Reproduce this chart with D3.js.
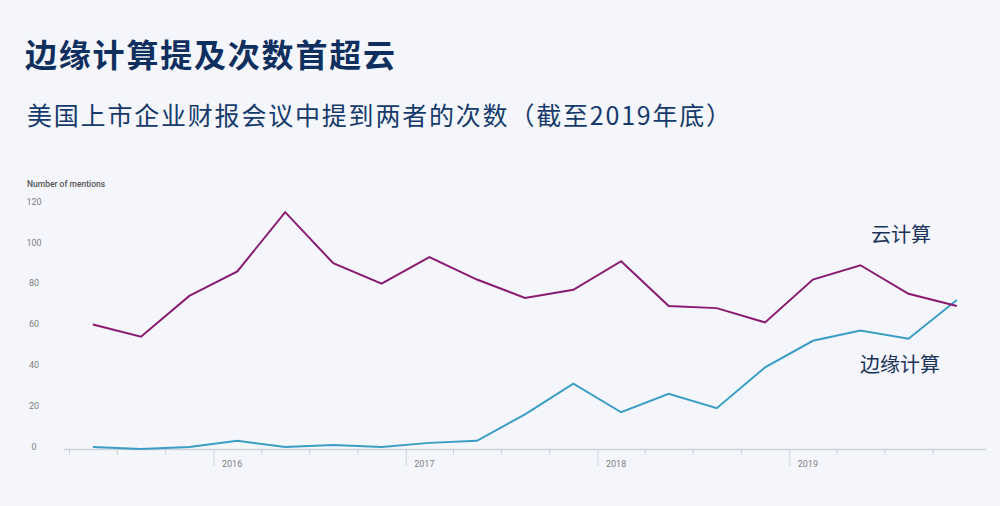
<!DOCTYPE html>
<html>
<head>
<meta charset="utf-8">
<script src="https://cdn.jsdelivr.net/npm/d3@7"></script>
<style>
  html, body { margin: 0; padding: 0; background: #f4f6fb; }
  svg { display: block; }
</style>
</head>
<body>
<svg id="chart" width="1000" height="506"></svg>
<script>
// ---- data ----
const quarters = ["2015-Q2","2015-Q3","2015-Q4",
  "2016-Q1","2016-Q2","2016-Q3","2016-Q4",
  "2017-Q1","2017-Q2","2017-Q3","2017-Q4",
  "2018-Q1","2018-Q2","2018-Q3","2018-Q4",
  "2019-Q1","2019-Q2","2019-Q3","2019-Q4"];
const cloudValues = [61, 55, 75, 87, 116, 91, 81, 94, 83, 74, 78, 92, 70, 69, 62, 83, 90, 76, 70];
const edgeValues  = [1, 0, 1, 4, 1, 2, 1, 3, 4, 17, 32, 18, 27, 20, 40, 53, 58, 54, 73];
const yTicks = [0, 20, 40, 60, 80, 100, 120];
const seriesNames = ["云计算", "边缘计算"];
const titleText = "边缘计算提及次数首超云";
const subtitleText = "美国上市企业财报会议中提到两者的次数（截至2019年底）";
const yAxisTitle = "Number of mentions";

// ---- helpers ----
function quarterStart(q) {
  const [y, qq] = q.split("-Q").map(Number);
  return new Date(y, (qq - 1) * 3, 1);
}
function quarterMid(q) {
  const s = quarterStart(q);
  const e = d3.timeMonth.offset(s, 3);
  return new Date((s.getTime() + e.getTime()) / 2);
}

const svg = d3.select("#chart");
const navy = "#0f2f5f";

// Titles
svg.append("text").attr("x", 25).attr("y", 67)
  .attr("font-family", "'Noto Sans CJK SC', sans-serif")
  .attr("font-weight", 700).attr("font-size", 32)
  .attr("letter-spacing", 1.8)
  .attr("fill", navy).text(titleText);

svg.append("text").attr("x", 27).attr("y", 125)
  .attr("font-family", "'Noto Sans CJK SC', sans-serif")
  .attr("font-weight", 400).attr("font-size", 25)
  .attr("letter-spacing", 1.8)
  .attr("fill", "#163a6b").text(subtitleText);

// Scales
const x = d3.scaleTime()
  .domain([new Date(2015, 3, 1), new Date(2020, 0, 1)])
  .range([69, 981]);
const y = d3.scaleLinear().domain([0, 120]).range([449, 204]);

// Y axis title + labels
svg.append("text").attr("x", 27).attr("y", 187)
  .attr("font-family", "Roboto, sans-serif").attr("font-size", 8.5)
  .attr("font-weight", 500)
  .attr("fill", "#555").text(yAxisTitle);

svg.append("g").selectAll("text").data(yTicks).join("text")
  .attr("x", 34).attr("y", d => y(d) - 2.4)
  .attr("dy", "0.35em")
  .attr("text-anchor", "middle")
  .attr("font-family", "Roboto, sans-serif").attr("font-size", 9)
  .attr("fill", "#808080").text(d => d);

// X axis
const tickDates = d3.timeMonth.every(3).range(new Date(2015, 3, 1), new Date(2020, 0, 1));
const xAxis = d3.axisBottom(x)
  .tickValues(tickDates)
  .tickSize(6)
  .tickSizeOuter(0)
  .tickFormat(d => d.getMonth() === 0 ? d3.timeFormat("%Y")(d) : "");

const gx = svg.append("g").attr("transform", "translate(0,449)").call(xAxis);
gx.select(".domain").remove();
gx.selectAll(".tick line").attr("stroke", "#cfd3da").attr("stroke-width", 1)
  .attr("y2", d => d.getMonth() === 0 ? 17 : 6);
gx.selectAll(".tick text")
  .attr("text-anchor", "start").attr("x", 8).attr("y", 12)
  .attr("font-family", "Roboto, sans-serif").attr("font-size", 9)
  .attr("fill", "#808080");
svg.append("line")
  .attr("x1", x.range()[0] - 5).attr("x2", x.range()[1] + 5)
  .attr("y1", 449.5).attr("y2", 449.5)
  .attr("stroke", "#cfd3da").attr("stroke-width", 1.5);

// Lines
const pts = quarters.map((q, i) => ({ date: quarterMid(q), cloud: cloudValues[i], edge: edgeValues[i] }));
const lineCloud = d3.line().x(d => x(d.date)).y(d => y(d.cloud));
const lineEdge = d3.line().x(d => x(d.date)).y(d => y(d.edge));

svg.append("path").datum(pts).attr("d", lineEdge)
  .attr("fill", "none").attr("stroke", "#3a9dc6").attr("stroke-width", 2)
  .attr("stroke-linejoin", "miter");
svg.append("path").datum(pts).attr("d", lineCloud)
  .attr("fill", "none").attr("stroke", "#891a72").attr("stroke-width", 2)
  .attr("stroke-linejoin", "miter");

// Series labels
svg.append("text").attr("x", 901).attr("y", 235).attr("dy", "0.35em")
  .attr("text-anchor", "middle")
  .attr("font-family", "'Noto Sans CJK SC', sans-serif").attr("font-size", 20)
  .attr("fill", "#1b3358").text(seriesNames[0]);
svg.append("text").attr("x", 900).attr("y", 365).attr("dy", "0.35em")
  .attr("text-anchor", "middle")
  .attr("font-family", "'Noto Sans CJK SC', sans-serif").attr("font-size", 20)
  .attr("fill", "#1b3358").text(seriesNames[1]);
</script>
</body>
</html>
